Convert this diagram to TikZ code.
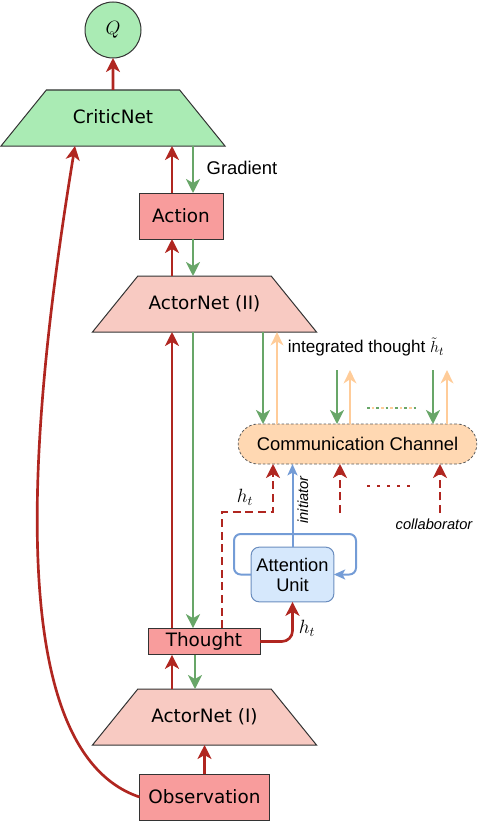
\documentclass[tikz,border=0pt]{standalone}
\usepackage{amsmath}
\usepackage{fontspec}
\setmainfont{Liberation Sans}
\newfontfamily\boxfont{DejaVu Sans}
\usetikzlibrary{positioning,arrows.meta,shapes.geometric,calc}

\definecolor{redline}{RGB}{176,38,32}
\definecolor{greenline}{RGB}{104,166,104}
\definecolor{orangeline}{RGB}{255,204,153}
\definecolor{blueline}{RGB}{116,156,214}
\definecolor{bordergray}{RGB}{51,51,51}
\definecolor{criticfill}{RGB}{170,235,180}
\definecolor{boxred}{RGB}{248,156,156}
\definecolor{actorfill}{RGB}{248,202,194}
\definecolor{chanfill}{RGB}{255,216,178}
\definecolor{attfill}{RGB}{214,232,252}
\definecolor{attborder}{RGB}{108,142,191}

\begin{document}
\begin{tikzpicture}[
		x=0.75pt, y=-0.75pt,
		net/.style={draw=bordergray, line width=0.75pt, trapezium, trapezium left angle=51, trapezium right angle=51,
			trapezium stretches body, minimum width=168pt, text height=10.5pt, text depth=2.5pt,
			inner xsep=0pt, inner ysep=14.5pt, outer sep=0pt,
			font={\boxfont\fontsize{13.8}{16}\selectfont}},
		box/.style={draw=bordergray, line width=0.75pt, fill=boxred, inner sep=0pt, outer sep=0pt,
			font={\boxfont\fontsize{13.8}{16}\selectfont}},
		circ/.style={draw=bordergray, line width=0.75pt, circle, fill=criticfill, minimum size=42pt, inner sep=0pt, outer sep=0pt,
			font=\fontsize{14.4}{16}\selectfont},
		chan/.style={draw=bordergray!80, line width=0.6pt, dash pattern=on 2pt off 1.5pt, fill=chanfill, rounded corners=15pt,
			minimum width=179pt, minimum height=30pt, inner sep=0pt, outer sep=0pt, font=\fontsize{13.8}{16}\selectfont},
		att/.style={draw=attborder, line width=0.75pt, fill=attfill, rounded corners=6pt, align=center,
			minimum width=62pt, minimum height=41pt, inner sep=0pt, outer sep=0pt, font=\fontsize{13.7}{15}\selectfont},
		lbl/.style={inner sep=0pt, font=\fontsize{13.8}{16}\selectfont},
		mathlbl/.style={inner sep=0pt, font=\fontsize{14}{16}\selectfont},
		smalllbl/.style={inner sep=0pt, font=\fontsize{11}{13}\selectfont\itshape},
		redarrow/.style={draw=redline, line width=2pt, -{Stealth[length=10.5pt,width=10.5pt,inset=3pt]}},
		reddash/.style={draw=redline, line width=2pt, dash pattern=on 6pt off 3.5pt, -{Stealth[length=10.5pt,width=10.5pt,inset=3pt]}},
		reddot/.style={draw=redline, line width=2pt, dash pattern=on 2.5pt off 5pt},
		greenarrow/.style={draw=greenline, line width=1.7pt, -{Stealth[length=10.5pt,width=10.5pt,inset=3pt]}},
		orangearrow/.style={draw=orangeline, line width=1.8pt, -{Stealth[length=10pt,width=9.5pt,inset=3pt]}},
		bluearrow/.style={draw=blueline, line width=1.5pt, -{Stealth[length=8.5pt,width=7.5pt,inset=2pt]}}
		]
		\useasboundingbox (0,0) rectangle (481,824);

		% nodes
		\node[circ] (q) at (113,30) {$Q$};
		\node[net, fill=criticfill] (critic) at (113,118) {CriticNet};
		\node[box, minimum width=63pt, minimum height=34.5pt] (action) at (181,216) {Action};
		\node[net, fill=actorfill] (actor2) at (204.5,304) {ActorNet (II)};
		\node[chan] (chan) at (357.5,444) {Communication Channel};
		\node[att] (att) at (292.5,574.5) {Attention\\Unit};
		\node[box, minimum width=84pt, minimum height=20pt] (thought) at (204,641.5) {Thought};
		\node[net, fill=actorfill] (actor1) at (204.5,717) {ActorNet (I)};
		\node[box, minimum width=97.5pt, minimum height=34.5pt] (obs) at (204.5,797) {Observation};

		% columns and free ends
		\coordinate (colR) at (172,0);
		\coordinate (colG) at (193,0);
		\coordinate (colG4) at (195,0);
		\coordinate (colG5) at (263,0);
		\coordinate (colO) at (277,0);
		\coordinate (colC) at (75,0);
		\coordinate (colD) at (222,0);
		\coordinate (kneeD) at (273,512);
		\coordinate (g2) at (337,370);
		\coordinate (o2) at (350,370);
		\coordinate (g3) at (433,370);
		\coordinate (o3) at (447,370);
		\coordinate (d2) at (340,513);
		\coordinate (d3) at (440,513);
		\coordinate (loopNW) at (234,534);
		\coordinate (loopNE) at (356,534);

		% forward pass
		\path[every edge/.append style=redarrow]
		(critic.north) edge (q.south)
		(colR |- action.north) edge (colR |- critic.south)
		(colR |- actor2.north) edge (colR |- action.south)
		(colR |- thought.north) edge (colR |- actor2.south)
		(colR |- actor1.north) edge (colR |- thought.south)
		(obs.north) edge (actor1.south);
		\draw[redarrow] (obs.west) .. controls (0,750) and (30,420) .. (colC |- critic.south);
		\draw[redarrow, rounded corners=8pt] (thought.east) -| (att.south);

		% gradients
		\path[every edge/.append style=greenarrow]
		(colG |- critic.south) edge (colG |- action.north)
		(colG |- action.south) edge (colG |- actor2.north)
		(colG |- actor2.south) edge (colG |- thought.north)
		(colG4 |- thought.south) edge (colG4 |- actor1.north)
		(colG5 |- actor2.south) edge (colG5 |- chan.north)
		(g2) edge (g2 |- chan.north)
		(g3) edge (g3 |- chan.north);

		% integrated thought
		\path[every edge/.append style=orangearrow]
		(colO |- chan.north) edge (colO |- actor2.south)
		(o2 |- chan.north) edge (o2)
		(o3 |- chan.north) edge (o3);
		\draw[greenline, line width=2pt, dash pattern=on 2pt off 5pt] (367,408) -- (417,408);
		\draw[orangeline, line width=2pt, dash pattern=on 2pt off 5pt, dash phase=3.5pt] (367,408) -- (417,408);

		% thoughts into the channel
		\draw[reddash] (colD |- thought.north) |- (kneeD) -- (kneeD |- chan.south);
		\path[every edge/.append style=reddash]
		(d2) edge (d2 |- chan.south)
		(d3) edge (d3 |- chan.south);
		\draw[reddot] (367,486) -- (415,486);

		% attention unit
		\draw[bluearrow] (att.north) -- (att.north |- chan.south);
		\draw[bluearrow, rounded corners=5pt] (att.west) -| (loopNW) -| (loopNE |- att.east) -- (att.east);

		% labels
		\node[lbl] (gradlbl) at (242,168) {Gradient};
		\node[lbl, font=\fontsize{12.8}{15}\selectfont] (intlbl) at (366,347) {integrated thought $\tilde{h}_t$};
		\node[mathlbl] (hlbl1) at (245,497) {$h_t$};
		\node[mathlbl] (hlbl2) at (307,628) {$h_t$};
		\node[smalllbl, rotate=90] (initlbl) at (303,500) {initiator};
		\node[smalllbl] (collab) at (434,524) {collaborator};
	\end{tikzpicture}
\end{document}
